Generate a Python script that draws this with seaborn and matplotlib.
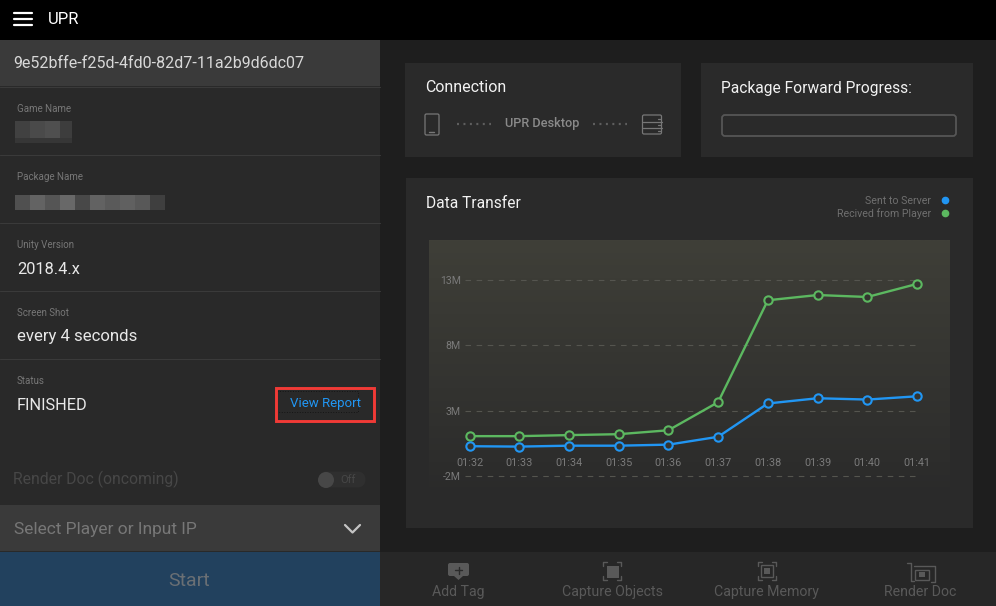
import numpy as np
import pandas as pd
import seaborn as sns
import matplotlib.pyplot as plt
from matplotlib.patches import Rectangle, FancyBboxPatch, Circle, Polygon
from matplotlib.lines import Line2D

times = ['01:32', '01:33', '01:34', '01:35', '01:36', '01:37', '01:38', '01:39', '01:40', '01:41']
sent = [0.28, 0.25, 0.32, 0.32, 0.40, 1.00, 3.55, 3.95, 3.85, 4.10]
received = [1.05, 1.05, 1.13, 1.20, 1.50, 3.65, 11.45, 11.85, 11.70, 12.70]
y_ticks = [-2, 3, 8, 13]
y_labels = ['-2M', '3M', '8M', '13M']

BLUE = '#2196f3'
GREEN = '#5cb860'
W, H = 996, 606

sns.set_theme(style='dark')
plt.rcParams['font.family'] = ['Roboto', 'DejaVu Sans']

fig = plt.figure(figsize=(W / 100, H / 100), dpi=100, facecolor='#1e1e1e')

# background axes in pixel coordinates, for the app chrome
bg = fig.add_axes([0, 0, 1, 1])
bg.set_xlim(0, W)
bg.set_ylim(H, 0)
bg.axis('off')


def rect(x0, y0, x1, y1, color, **kw):
    bg.add_patch(Rectangle((x0, y0), x1 - x0, y1 - y0, facecolor=color, edgecolor='none', **kw))


def line(xs, ys, color, lw=1.0, **kw):
    bg.add_line(Line2D(xs, ys, color=color, lw=lw, **kw))


def label(x, y, s, size, color, ha='left', **kw):
    bg.text(x, y + 1, s, fontsize=size, color=color, ha=ha, va='center', **kw)


# main regions
rect(0, 0, W, 40, '#000000')
rect(0, 40, 380, 606, '#292929')
rect(0, 40, 380, 86, '#3a3a3a')
rect(0, 505, 380, 551, '#3a3a3a')
rect(0, 552, 380, 606, '#22415e')
rect(380, 552, W, 606, '#272727')
rect(405, 63, 681, 157, '#2a2a2a')
rect(701, 63, 973, 157, '#2a2a2a')
rect(406, 178, 973, 528, '#2a2a2a')

# top bar
for y in (13, 19, 25):
    line([14, 32], [y, y], 'white', lw=1.6)
label(48, 19, 'UPR', 12, 'white')

# left column
label(13, 63, '9e52bffe-f25d-4fd0-82d7-11a2b9d6dc07', 11.5, '#d8d8d8')
for y in (87, 155, 223, 291, 359):
    line([0, 380], [y, y], '#3a3a3a', lw=0.8)
label(17, 108, 'Game Name', 7, '#777777')
label(17, 176, 'Package Name', 7, '#777777')
label(17, 244, 'Unity Version', 7, '#777777')
label(17, 312, 'Screen Shot', 7, '#777777')
label(17, 380, 'Status', 7, '#777777')
label(17, 268, '2018.4.x', 11.8, '#e8e8e8')
label(17, 336, 'every 4 seconds', 12.1, '#e8e8e8')
label(17, 404, 'FINISHED', 11.8, '#e8e8e8')

# blurred names
for x0, x1, c in [(15, 30, '#414141'), (30, 45, '#4a4a4a'), (45, 60, '#4f4f4f'), (60, 72, '#3d3d3d')]:
    rect(x0, 121, x1, 138, c)
    rect(x0, 138, x1, 143, '#363636')
for x0, x1, c in [(15, 30, '#505050'), (30, 45, '#636363'), (45, 60, '#555555'), (60, 75, '#686868'),
                  (75, 90, '#484848'), (90, 105, '#626262'), (105, 120, '#5a5a5a'), (120, 135, '#606060'),
                  (135, 150, '#585858'), (150, 165, '#3f3f3f')]:
    rect(x0, 195, x1, 210, c)

# view report button
label(290, 402, 'View Report', 9.5, '#2196f3')
bg.add_patch(Rectangle((277, 391), 81, 21, fill=False, edgecolor='#151515', lw=0.7, ls=':'))
bg.add_patch(Rectangle((276, 387.5), 97.5, 33, fill=False, edgecolor='#f03a36', lw=2.1))

# disabled controls
label(13, 478.5, 'Render Doc (oncoming)', 11.3, '#474747')
bg.add_patch(FancyBboxPatch((322, 475), 40, 9, boxstyle='round,pad=0,rounding_size=4.5', mutation_aspect=1,
                            facecolor='#2f2f2f', edgecolor='#2f2f2f', lw=5))
bg.add_patch(Circle((326, 480), 8, facecolor='#474747', edgecolor='none'))
label(340, 479, 'Off', 8, '#474747')
label(14, 528.5, 'Select Player or Input IP', 12.5, '#777777')
line([345, 352.5, 360], [525, 532.5, 525], '#c4c4c4', lw=1.6)
label(189, 580, 'Start', 14, '#6a6f74', ha='center')

# connection card
label(425, 87, 'Connection', 11.5, '#f2f2f2')
label(721, 87, 'Package Forward Progress:', 11.2, '#f2f2f2')
label(542.5, 123, 'UPR Desktop', 9.2, '#8a8a8a', ha='center', fontweight='medium')
bg.add_patch(FancyBboxPatch((425, 114), 14, 21, boxstyle='round,pad=0,rounding_size=1.5',
                            fill=False, edgecolor='#777777', lw=0.9))
line([429, 434], [132, 132], '#777777', lw=1)
bg.add_patch(FancyBboxPatch((642.5, 115), 19, 19, boxstyle='round,pad=0,rounding_size=1.5',
                            fill=False, edgecolor='#777777', lw=0.9))
line([642.5, 661.5], [121.5, 121.5], '#777777', lw=0.9)
line([642.5, 661.5], [128, 128], '#777777', lw=0.9)
for y in (118.5, 125, 131):
    line([658, 659.5], [y, y], '#777777', lw=0.9)
for start in (457, 593):
    line([start, start + 34], [124, 124], '#5e5e5e', lw=1.6, ls=(0, (0.9, 2.0)))
bg.add_patch(FancyBboxPatch((722, 115), 234, 21, boxstyle='round,pad=0,rounding_size=3',
                            fill=False, edgecolor='#565656', lw=1.3))

# bottom toolbar
tool_color = '#595959'
label(458, 591, 'Add Tag', 10.2, tool_color, ha='center')
label(612, 591, 'Capture Objects', 10.2, tool_color, ha='center')
label(766, 591, 'Capture Memory', 10.2, tool_color, ha='center')
label(920, 591, 'Render Doc', 10.2, tool_color, ha='center')
bg.add_patch(FancyBboxPatch((448, 563), 21, 13, boxstyle='round,pad=0,rounding_size=2', facecolor=tool_color, edgecolor='none'))
bg.add_patch(Polygon([[454, 576], [463, 576], [458.5, 580]], facecolor=tool_color, edgecolor='none'))
line([455, 462], [570, 570], '#2a2a2a', lw=1)
line([458.5, 458.5], [566.5, 573.5], '#2a2a2a', lw=1)
for cx in (612, 767):
    for sx, sy in [(-1, -1), (1, -1), (-1, 1), (1, 1)]:
        line([cx + sx * 9, cx + sx * 9, cx + sx * 5], [571 + sy * 5, 571 + sy * 9, 571 + sy * 9], tool_color, lw=1)
rect(607, 566, 619, 578, tool_color)
bg.add_patch(Rectangle((761, 565), 12, 12, fill=False, edgecolor=tool_color, lw=1))
rect(764, 568, 770, 574, tool_color)
line([907, 911, 911, 914], [563, 563, 581, 581], tool_color, lw=1)
line([914, 935, 935, 931], [566, 566, 582, 582], tool_color, lw=1)
bg.add_patch(Rectangle((915, 570), 14, 10, fill=False, edgecolor=tool_color, lw=1))
rect(919, 572, 925, 577, tool_color)

label(426, 202, 'Data Transfer', 11.2, '#f2f2f2')

# chart
left, right, top, bottom = 429, 950, 240, 500
ax = fig.add_axes([left / W, 1 - bottom / H, (right - left) / W, (bottom - top) / H])
ax.patch.set_alpha(0)
grad = np.linspace(0, 1, 256).reshape(-1, 1)
c0 = np.array([0x3f, 0x3f, 0x38]) / 255
c1 = np.array([0x2a, 0x2a, 0x2a]) / 255
ax.imshow(c0 + (c1 - c0) * grad[:, :, None], extent=[0, 1, 0, 1], transform=ax.transAxes,
          aspect='auto', zorder=0)

df = pd.DataFrame({'time': times, 'sent': sent, 'received': received})
marker_kw = dict(marker='o', markersize=6, markeredgewidth=1.5, markerfacecolor='#33332f', linewidth=1.7, sort=False)
ax.hlines(y_ticks, -0.1, 9.05, color='#55554f', lw=0.8, linestyles=(0, (5, 5)), zorder=1)
sns.lineplot(data=df, x='time', y='received', color=GREEN, markeredgecolor=GREEN, ax=ax, zorder=3, **marker_kw)
sns.lineplot(data=df, x='time', y='sent', color=BLUE, markeredgecolor=BLUE, ax=ax, zorder=3, **marker_kw)

px_per_step = (917 - 469.5) / 9
px_per_m = (476 - 280) / 15
ax.set_xlim((left - 469.5) / px_per_step, (right - 469.5) / px_per_step)
ax.set_ylim(13 - (bottom - 280) / px_per_m, 13 + (280 - top) / px_per_m)
ax.set_yticks(y_ticks, y_labels)
ax.set_xlabel('')
ax.set_ylabel('')
ax.tick_params(axis='y', length=0, pad=-23, labelsize=7.6, labelcolor='#7a7a7a')
ax.tick_params(axis='x', length=0, pad=-30, labelsize=7.8, labelcolor='#7a7a7a')
ax.grid(False)
sns.despine(ax=ax, left=True, bottom=True)
bg.text(437, 250, 'Bytes', fontsize=6.4, color='#6f6f6a', va='center', zorder=1)

handles = [Line2D([], [], color=BLUE, marker='o', ls='none', markersize=4.5),
           Line2D([], [], color=GREEN, marker='o', ls='none', markersize=4.5)]
fig.legend(handles, ['Sent to Server', 'Recived from Player'], loc='upper right',
           bbox_to_anchor=(956 / W, 1 - 196 / H), frameon=False, markerfirst=False, alignment='right',
           fontsize=7.7, labelcolor='#6f6f6f', labelspacing=0.18, handletextpad=0.35,
           borderpad=0, borderaxespad=0)

fig.savefig('out.png', dpi=100, facecolor=fig.get_facecolor())
